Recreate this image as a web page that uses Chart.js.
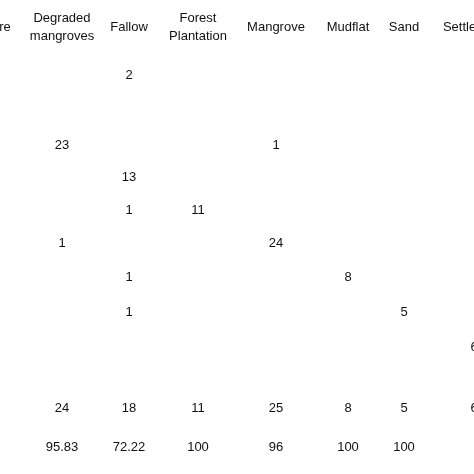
<!DOCTYPE html>
<html><head><meta charset="utf-8">
<script src="https://cdn.jsdelivr.net/npm/chart.js@4"></script>
<style>html,body{margin:0;padding:0;background:#fff}#w{width:474px;height:474px}</style>
</head><body><div id="w"><canvas id="c"></canvas></div>
<script>
const categories = [["Bare"],["Degraded","mangroves"],["Fallow"],["Forest","Plantation"],["Mangrove"],["Mudflat"],["Sand"],["Settlement"]];
// cells: [column, row, label]
const cellCol = [2,1,4,2,2,3,1,4,2,5,2,6,7, 1,2,3,4,5,6,7, 1,2,3,4,5,6];
const cellRow = [0,2,2,3,4,4,5,5,6,6,7,7,8, 9,9,9,9,9,9,9, 10,10,10,10,10,10];
const cellText = ["2","23","1","13","1","11","1","24","1","8","1","5","6",
  "24","18","11","25","8","5","6",
  "95.83","72.22","100","96","100","100"];
const colPos = [-3,62,129,198,276,348,404,474];
const rowPos = [75,110,145,177,210,243,277,312,347,408,447];

const pts = cellCol.map((c,i)=>({x:colPos[c], y:rowPos[cellRow[i]], t:cellText[i]}));
const FONT = '13px "Liberation Sans Narrow", "Liberation Sans", Arial, sans-serif';
const labels = {
  id:'labels',
  afterDatasetsDraw(chart){
    const ctx = chart.ctx, xs = chart.scales.x, ys = chart.scales.y;
    ctx.save(); ctx.fillStyle='#111'; ctx.font=FONT; ctx.textAlign='center'; ctx.textBaseline='middle';
    chart.getDatasetMeta(0).data.forEach((el,i)=>ctx.fillText(pts[i].t, el.x, el.y));
    categories.forEach((lines,i)=>{
      const x = xs.getPixelForValue(colPos[i]);
      if(lines.length===1) ctx.fillText(lines[0], x, ys.getPixelForValue(27));
      else { ctx.fillText(lines[0], x, ys.getPixelForValue(18)); ctx.fillText(lines[1], x, ys.getPixelForValue(36)); }
    });
    ctx.restore();
  }
};
new Chart(document.getElementById('c'), {
  type:'scatter',
  data:{datasets:[{data:pts, pointRadius:0, pointHoverRadius:0}]},
  options:{
    responsive:true, maintainAspectRatio:false, animation:false,
    layout:{padding:0},
    plugins:{legend:{display:false}, tooltip:{enabled:false}},
    scales:{
      x:{type:'linear', min:0, max:474, display:false},
      y:{type:'linear', min:0, max:474, reverse:true, display:false}
    }
  },
  plugins:[labels]
});
</script></body></html>
